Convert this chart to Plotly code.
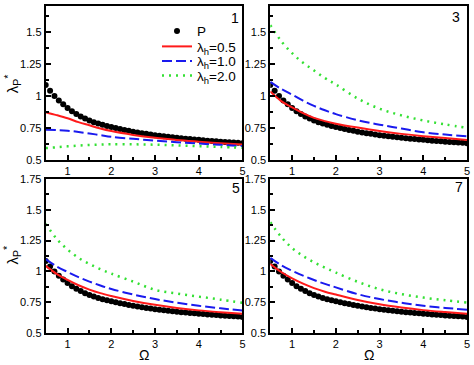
import plotly.graph_objects as go

# ---------------- data ----------------
omega_p = [0.5, 0.6, 0.7, 0.8, 0.9, 1.0, 1.1, 1.2, 1.3, 1.4, 1.5, 1.6, 1.7, 1.8, 1.9,
           2.0, 2.1, 2.2, 2.3, 2.4, 2.5, 2.6, 2.7, 2.8, 2.9, 3.0, 3.1, 3.2, 3.3, 3.4,
           3.5, 3.6, 3.7, 3.8, 3.9, 4.0, 4.1, 4.2, 4.3, 4.4, 4.5, 4.6, 4.7, 4.8, 4.9, 5.0]
p_vals = [1.085, 1.04, 1.0, 0.965, 0.935, 0.905, 0.88, 0.858, 0.84, 0.823, 0.808, 0.795,
          0.784, 0.774, 0.765, 0.757, 0.749, 0.741, 0.734, 0.727, 0.72, 0.714, 0.708,
          0.703, 0.698, 0.693, 0.688, 0.684, 0.68, 0.676, 0.672, 0.668, 0.665, 0.662,
          0.659, 0.656, 0.653, 0.65, 0.647, 0.645, 0.642, 0.64, 0.637, 0.635, 0.633, 0.63]

omega_l = [0.5, 0.75, 1.0, 1.25, 1.5, 1.75, 2.0, 2.5, 3.0, 3.5, 4.0, 4.5, 5.0]

red_1 = [0.873, 0.85, 0.825, 0.795, 0.77, 0.745, 0.725, 0.695, 0.672, 0.655, 0.642, 0.630, 0.62]
blue_1 = [0.735, 0.733, 0.728, 0.718, 0.706, 0.693, 0.68, 0.664, 0.65, 0.638, 0.627, 0.617, 0.608]
green_1 = [0.592, 0.598, 0.605, 0.611, 0.616, 0.619, 0.621, 0.621, 0.618, 0.613, 0.607, 0.600, 0.594]

red_3 = [1.035, 0.96, 0.91, 0.865, 0.828, 0.803, 0.783, 0.752, 0.725, 0.703, 0.685, 0.67, 0.655]
blue_3 = [1.11, 1.055, 1.01, 0.963, 0.922, 0.888, 0.858, 0.81, 0.775, 0.745, 0.715, 0.698, 0.683]
green_3 = [1.555, 1.43, 1.335, 1.26, 1.2, 1.14, 1.09, 0.98, 0.9, 0.848, 0.808, 0.777, 0.75]

red_5 = [1.045, 0.98, 0.93, 0.887, 0.852, 0.823, 0.8, 0.76, 0.728, 0.703, 0.683, 0.668, 0.655]
blue_5 = [1.10, 1.04, 0.995, 0.953, 0.917, 0.885, 0.857, 0.812, 0.775, 0.745, 0.72, 0.70, 0.682]
green_5 = [1.385, 1.265, 1.178, 1.11, 1.06, 1.018, 0.982, 0.917, 0.85, 0.82, 0.795, 0.77, 0.745]

red_7 = [1.06, 0.995, 0.943, 0.9, 0.864, 0.835, 0.812, 0.768, 0.732, 0.706, 0.685, 0.669, 0.655]
blue_7 = [1.11, 1.05, 1.005, 0.965, 0.93, 0.898, 0.87, 0.815, 0.775, 0.745, 0.72, 0.703, 0.688]
green_7 = [1.40, 1.28, 1.19, 1.125, 1.074, 1.03, 0.99, 0.915, 0.855, 0.815, 0.787, 0.765, 0.746]

panels = [
    ("1", red_1, blue_1, green_1),
    ("3", red_3, blue_3, green_3),
    ("5", red_5, blue_5, green_5),
    ("7", red_7, blue_7, green_7),
]
legend_names = ["P", "λ<sub>h</sub>=0.5", "λ<sub>h</sub>=1.0", "λ<sub>h</sub>=2.0"]

# ---------------- layout geometry ----------------
W, H = 474, 365
xdom = [(46 / W, 244 / W), (272 / W, 470 / W)]
ydom_top = ((H - 159) / H, 1.0)
ydom_bot = ((H - 338) / H, (H - 179) / H)
doms = [(xdom[0], ydom_top), (xdom[1], ydom_top), (xdom[0], ydom_bot), (xdom[1], ydom_bot)]
yranges = [[0.5, 1.705], [0.5, 1.705], [0.5, 1.75], [0.5, 1.75]]

RED = "#ff1a1a"
BLUE = "#1a1aee"
GREEN = "#33e033"
FONT = "Liberation Sans, Arial, sans-serif"
legend_ids = ["legend", "legend2", "legend3", "legend4"]

fig = go.Figure()
layout = {}
for i, (lab, red, blue, green) in enumerate(panels):
    n = "" if i == 0 else str(i + 1)
    xa, ya = "x" + n, "y" + n
    show = i == 0
    fig.add_trace(go.Scatter(x=omega_p, y=p_vals, mode="markers", xaxis=xa, yaxis=ya,
                             marker=dict(color="black", size=6), name=legend_names[0],
                             showlegend=show, legend=legend_ids[0]))
    fig.add_trace(go.Scatter(x=omega_l, y=red, mode="lines", xaxis=xa, yaxis=ya,
                             line=dict(color=RED, width=2, shape="spline"),
                             name=legend_names[1], showlegend=show, legend=legend_ids[1]))
    fig.add_trace(go.Scatter(x=omega_l, y=blue, mode="lines", xaxis=xa, yaxis=ya,
                             line=dict(color=BLUE, width=2, dash="10px,4px", shape="spline"),
                             name=legend_names[2], showlegend=show, legend=legend_ids[2]))
    fig.add_trace(go.Scatter(x=omega_l, y=green, mode="lines", xaxis=xa, yaxis=ya,
                             line=dict(color=GREEN, width=2.5, dash="2px,5px", shape="spline"),
                             name=legend_names[3], showlegend=show, legend=legend_ids[3]))
    (xd, yd) = doms[i]
    layout["xaxis" + n] = dict(
        domain=list(xd), anchor=ya, range=[0.5, 5], tickmode="linear", tick0=0, dtick=1,
        ticks="inside", ticklen=5, tickwidth=1.5, tickcolor="black",
        minor=dict(tick0=0.5, dtick=0.5, ticks="inside", ticklen=3, tickcolor="black"),
        showline=True, linewidth=2, linecolor="black", mirror=True, showgrid=False,
        zeroline=False, ticklabelstandoff=0, ticklabeloverflow="allow",
        tickfont=dict(size=11, color="black", family=FONT))
    layout["yaxis" + n] = dict(
        domain=list(yd), anchor=xa, range=yranges[i], tickmode="linear", tick0=0.5, dtick=0.25,
        ticks="inside", ticklen=5, tickwidth=1.5, tickcolor="black",
        minor=dict(tick0=0.5, dtick=0.125, ticks="inside", ticklen=3, tickcolor="black"),
        showline=True, linewidth=2, linecolor="black", mirror=True, showgrid=False,
        zeroline=False, ticklabeloverflow="allow",
        tickfont=dict(size=11, color="black", family=FONT))

annotations = []
# panel numbers
num_pos = [(236, 12), (459, 11), (237, 188), (462, 187)]
for (lab, *_), (px, py) in zip(panels, num_pos):
    annotations.append(dict(x=px / W, y=1 - py / H, xref="paper", yref="paper", text=lab,
                            xanchor="center", yanchor="middle", showarrow=False,
                            font=dict(size=14, color="black", family=FONT)))
# y titles
for py in (80, 257):
    annotations.append(dict(x=12 / W, y=1 - py / H, xref="paper", yref="paper",
                            xanchor="center", yanchor="middle",
                            text="λ<sub>P</sub><sup>*</sup>", textangle=-90, showarrow=False,
                            font=dict(size=15, color="black", family=FONT)))
# x titles
for px in (145, 371):
    annotations.append(dict(x=px / W, y=1 - 361 / H, xref="paper", yref="paper", text="Ω",
                            xanchor="center", yanchor="middle",
                            showarrow=False, font=dict(size=14, color="black", family=FONT)))

legend_y = [26, 42, 57, 72]
legends = {}
for lid, ly in zip(legend_ids, legend_y):
    legends[lid] = dict(x=158 / W, y=1 - ly / H, xanchor="left", yanchor="middle",
                        bgcolor="rgba(0,0,0,0)", borderwidth=0,
                        font=dict(size=13.5, family=FONT, color="black"),
                        itemwidth=30, tracegroupgap=0)

fig.update_layout(
    width=W, height=H, margin=dict(l=0, r=0, t=0, b=0),
    paper_bgcolor="white", plot_bgcolor="white",
    font=dict(family=FONT, color="black"),
    annotations=annotations,
    **legends,
    **layout,
)
fig.write_html("out.html",
               config={"displayModeBar": False},
               post_script="document.body.style.margin='0px';"
                           "document.body.style.overflow='hidden';")
